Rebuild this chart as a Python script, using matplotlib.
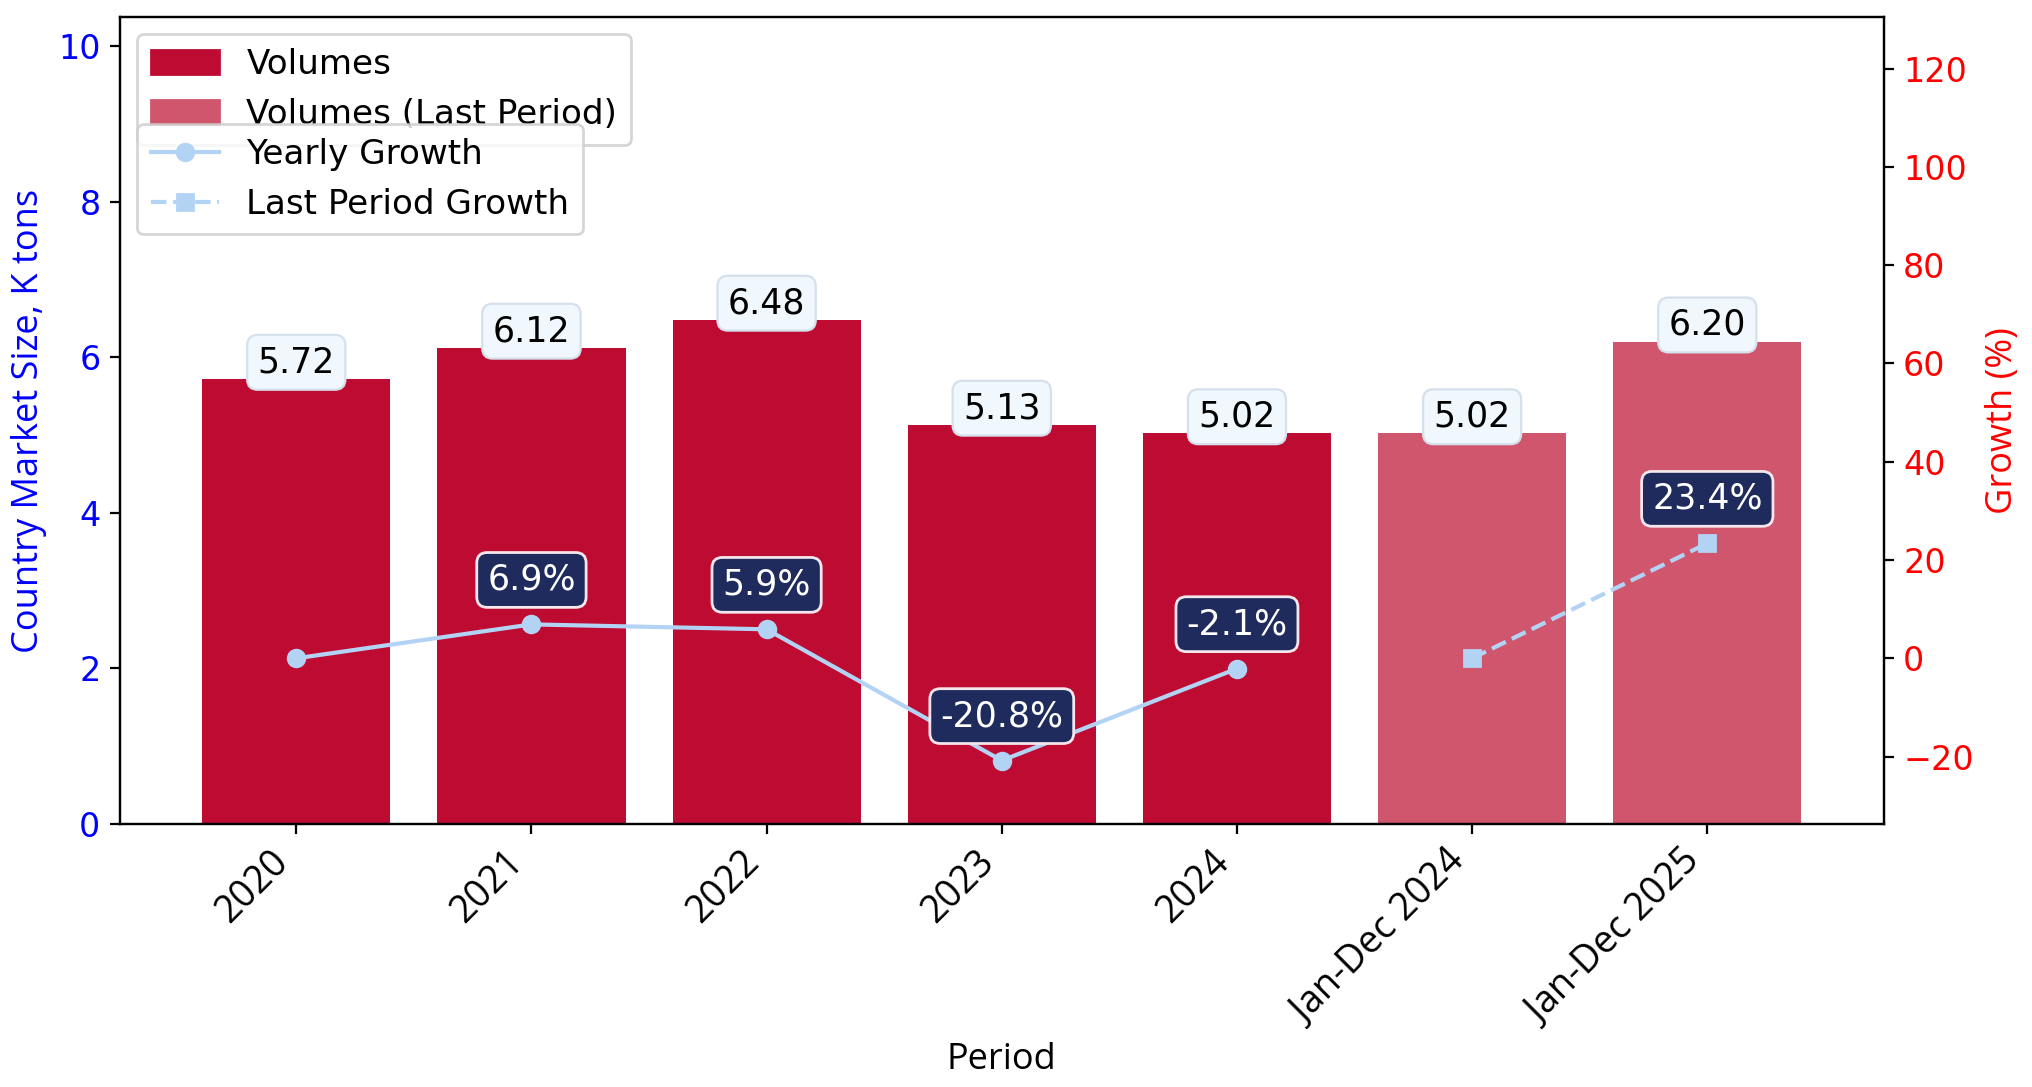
import matplotlib.pyplot as plt
from matplotlib.lines import Line2D
from matplotlib.patches import Patch

periods = ['2020', '2021', '2022', '2023', '2024', 'Jan-Dec 2024', 'Jan-Dec 2025']
volumes = [5.72, 6.12, 6.48, 5.13, 5.02, 5.02, 6.20]
is_last_period = [False, False, False, False, False, True, True]

yearly_idx = [0, 1, 2, 3, 4]
yearly_growth = [0.0, 6.9, 5.9, -20.8, -2.1]
last_idx = [5, 6]
last_growth = [0.0, 23.4]

bar_dark = '#BE0B31'
bar_light = '#D0566E'
line_color = '#B3D3F5'
label_font = ['Open Sans', 'DejaVu Sans']

plt.rcParams['font.family'] = 'DejaVu Sans'
fig = plt.figure(figsize=(10.16, 5.435), dpi=200)
ax1 = fig.add_axes([0.059, 0.242, 0.868, 0.742])
ax2 = ax1.twinx()

x = list(range(len(periods)))
colors = [bar_light if lp else bar_dark for lp in is_last_period]
ax1.bar(x, volumes, width=0.8, color=colors, zorder=2)

for xi, v in zip(x, volumes):
    ax1.annotate(f'{v:.2f}', (xi, v), xytext=(0, 6), textcoords='offset points',
                 ha='center', va='center', fontsize=12.5, color='black', zorder=5,
                 bbox=dict(boxstyle='round,pad=0.3', fc='#F0F7FD', ec='#D5E0EC', lw=0.8))

ax1.set_ylim(0, max(volumes) * 1.6)
ax1.set_xlim(-0.75, len(periods) - 0.25)
ax1.set_xticks(x)
ax1.set_xticklabels(periods, rotation=45, ha='right', fontsize=13.5, family=label_font)
ax1.tick_params(axis='y', labelcolor='blue', labelsize=12)
ax1.set_ylabel('Country Market Size, K tons', color='blue', fontsize=13, family=label_font)
ax1.set_xlabel('Period', fontsize=13, family=label_font)

ax2.plot(yearly_idx, yearly_growth, color=line_color, marker='o', markersize=6,
         linewidth=1.5, zorder=3)
ax2.plot(last_idx, last_growth, color=line_color, marker='s', markersize=6,
         linewidth=1.5, linestyle='--', zorder=3)

for xi, g in list(zip(yearly_idx, yearly_growth)) + list(zip(last_idx, last_growth)):
    if g == 0:
        continue
    ax2.annotate(f'{g:.1f}%', (xi, g), xytext=(0, 16), textcoords='offset points',
                 ha='center', va='center', fontsize=12.5, color='white', zorder=6,
                 bbox=dict(boxstyle='round,pad=0.3', fc='#1E2B5C', ec='#F3E6EC', lw=1))

ax2.set_ylim(-33.7, 130.4)
ax2.tick_params(axis='y', labelcolor='red', labelsize=12)
ax2.set_ylabel('Growth (%)', color='red', fontsize=13, family=label_font)

bar_handles = [Patch(color=bar_dark, label='Volumes'),
               Patch(color=bar_light, label='Volumes (Last Period)')]
line_handles = [Line2D([0], [0], color=line_color, marker='o', label='Yearly Growth'),
                Line2D([0], [0], color=line_color, marker='s', linestyle='--',
                       label='Last Period Growth')]
ax1.legend(handles=bar_handles, loc='upper left', fontsize=12.3)
ax2.legend(handles=line_handles, loc='upper left', bbox_to_anchor=(0.0, 0.889), fontsize=12.3)

fig.savefig('out.png', dpi=200)
